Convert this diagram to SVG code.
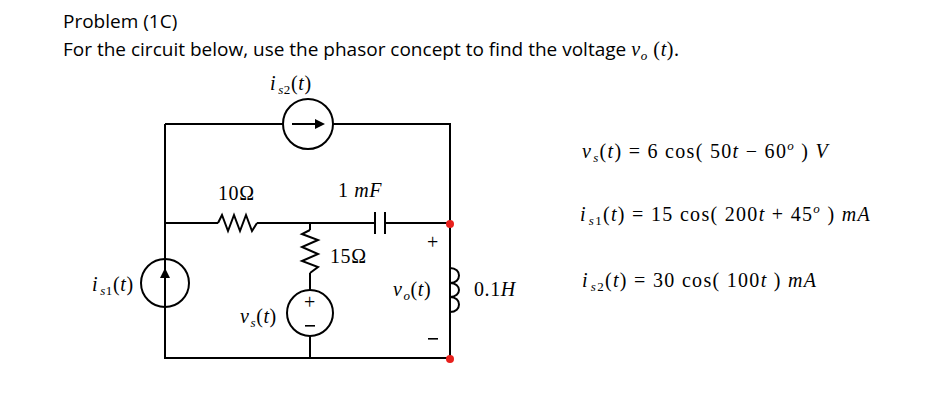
<svg xmlns="http://www.w3.org/2000/svg" width="934" height="402" viewBox="0 0 934 402">
<style>
.w{fill:none;stroke:#000;stroke-width:2}
.t{font-family:"Open Sans",sans-serif;font-size:19px;fill:#000}
.m{font-family:"Liberation Serif",serif;font-size:20px;fill:#000;letter-spacing:0.6px}
.e{letter-spacing:1.3px}
.i{font-style:italic}
.s{font-size:13px}
</style>
<rect width="934" height="402" fill="#fff"/>
<text class="t" x="63" y="28">Problem (1C)</text>
<text class="t" x="63" y="56">For the circuit below, use the phasor concept to find the voltage  <tspan class="m i">v</tspan><tspan class="m i s" dy="4">o</tspan><tspan class="m" dy="-4">  (</tspan><tspan class="m i">t</tspan><tspan class="m">).</tspan></text>
<text class="m" x="270" y="90"><tspan class="i">i</tspan><tspan class="i s" dx="2" dy="4">s</tspan><tspan class="s">2</tspan><tspan dy="-4">(</tspan><tspan class="i">t</tspan>)</text>
<g id="connectors">
<path class="w" d="M165,124H283M333,124H450V358H165V124M165,223H218M257,223H375M385,223H450M310,223V230M310,273V290M310,336V358"/>
</g>
<g id="is2"><circle class="w" cx="308" cy="124" r="25"/><path class="w" d="M292,124H318"/><path d="M325,124L315,119V129Z"/></g>
<g id="is1"><circle class="w" cx="165" cy="283" r="24"/><path class="w" d="M165,297V275"/><path d="M165,268L160,278H170Z"/>
<text class="m" x="92" y="291"><tspan class="i">i</tspan><tspan class="i s" dx="2" dy="4">s</tspan><tspan class="s">1</tspan><tspan dy="-4">(</tspan><tspan class="i">t</tspan>)</text></g>
<g id="r10"><path class="w" d="M218,223L222,215L228,231L234,215L240,231L246,215L252,231L257,223" stroke-width="1.5"/><text class="m" x="218" y="200">10Ω</text></g>
<g id="c1"><path class="w" d="M375,212V234M385,212V234" stroke-width="1.5"/><text class="m" x="338" y="197">1 <tspan class="i">mF</tspan></text></g>
<g id="r15"><path class="w" d="M310,230L302,234L318,240L302,247L318,254L302,261L318,267L310,273" stroke-width="1.5"/><text class="m" x="330" y="263">15Ω</text></g>
<g id="vs"><circle class="w" cx="310" cy="313" r="23"/><text class="m" x="304" y="309">+</text><rect x="305" y="325" width="10" height="1.6"/>
<text class="m" x="240" y="323"><tspan class="i">v</tspan><tspan class="i s" dx="1" dy="4">s</tspan><tspan dy="-4">(</tspan><tspan class="i">t</tspan>)</text></g>
<g id="L"><path class="w" d="M450,268C462,268 462,283 450,283C462,283 462,297 450,297C462,297 462,312 450,312"/>
<text class="m" x="427" y="249">+</text><rect x="428" y="338" width="10" height="1.6"/>
<text class="m" x="393" y="296"><tspan class="i">v</tspan><tspan class="i s" dx="1" dy="4">o</tspan><tspan dy="-4">(</tspan><tspan class="i">t</tspan>)</text>
<text class="m" x="474" y="296">0.1<tspan class="i">H</tspan></text></g>
<circle cx="450" cy="224" r="4" fill="#e8201c"/><circle cx="450" cy="359" r="4" fill="#e8201c"/>
<g id="eq">
<text class="m e" x="582" y="158"><tspan class="i">v</tspan><tspan class="i s" dx="1" dy="4">s</tspan><tspan dy="-4">(</tspan><tspan class="i">t</tspan>) = 6 cos( 50<tspan class="i">t</tspan> − 60<tspan class="i s" dy="-8">o</tspan><tspan dy="8"> )  </tspan><tspan class="i">V</tspan></text>
<text class="m e" x="580" y="221"><tspan class="i">i</tspan><tspan class="i s" dx="2" dy="4">s</tspan><tspan class="s">1</tspan><tspan dy="-4">(</tspan><tspan class="i">t</tspan>) = 15  cos( 200<tspan class="i">t</tspan> + 45<tspan class="i s" dy="-8">o</tspan><tspan dy="8"> )  </tspan><tspan class="i">mA</tspan></text>
<text class="m e" x="582" y="287"><tspan class="i">i</tspan><tspan class="i s" dx="2" dy="4">s</tspan><tspan class="s">2</tspan><tspan dy="-4">(</tspan><tspan class="i">t</tspan>) = 30 cos( 100<tspan class="i">t</tspan> )  <tspan class="i">mA</tspan></text>
</g>
</svg>
